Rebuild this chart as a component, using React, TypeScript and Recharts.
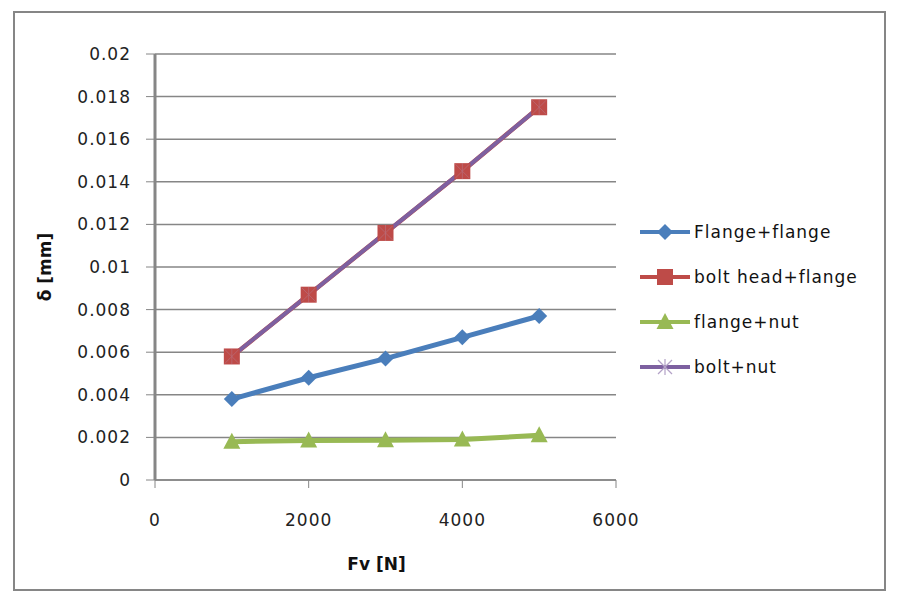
import React from 'react';
import { CartesianGrid, Legend, Line, LineChart, XAxis, YAxis } from 'recharts';

const forces = [1000, 2000, 3000, 4000, 5000];
const flangeFlange = [0.0038, 0.0048, 0.0057, 0.0067, 0.0077];
const boltHeadFlange = [0.0058, 0.0087, 0.0116, 0.0145, 0.0175];
const flangeNut = [0.0018, 0.00185, 0.00187, 0.0019, 0.0021];
const boltNut = [0.0058, 0.0087, 0.0116, 0.0145, 0.0175];

const xTicks = [0, 2000, 4000, 6000];
const yTicks = [0, 0.002, 0.004, 0.006, 0.008, 0.01, 0.012, 0.014, 0.016, 0.018, 0.02];

const data = forces.map((f, i) => ({
  force: f,
  ff: flangeFlange[i],
  bhf: boltHeadFlange[i],
  fn: flangeNut[i],
  bn: boltNut[i],
}));

const FONT = '"DejaVu Sans", sans-serif';
const GRID = '#868686';

type Shape = 'diamond' | 'square' | 'triangle' | 'cross';

const series: { key: string; name: string; color: string; shape: Shape; width: number }[] = [
  { key: 'ff', name: 'Flange+flange', color: '#4a7ebb', shape: 'diamond', width: 5 },
  { key: 'bhf', name: 'bolt head+flange', color: '#be4b48', shape: 'square', width: 4.5 },
  { key: 'fn', name: 'flange+nut', color: '#98b954', shape: 'triangle', width: 5 },
  { key: 'bn', name: 'bolt+nut', color: '#7d60a0', shape: 'cross', width: 4 },
];

function marker(shape: Shape, color: string, cx: number, cy: number, k?: string, faint?: boolean) {
  if (shape === 'diamond') {
    const r = 8;
    return <polygon key={k} points={`${cx},${cy - r} ${cx + r},${cy} ${cx},${cy + r} ${cx - r},${cy}`} fill={color} />;
  }
  if (shape === 'square') {
    return <rect key={k} x={cx - 8} y={cy - 8} width={16} height={16} fill={color} />;
  }
  if (shape === 'triangle') {
    return <polygon key={k} points={`${cx},${cy - 9} ${cx + 8.5},${cy + 7} ${cx - 8.5},${cy + 7}`} fill={color} />;
  }
  return (
    <g key={k} stroke="#b3a2c7" strokeWidth={faint ? 0.8 : 1.2} opacity={faint ? 0.35 : 1}>
      <line x1={cx - 7} y1={cy - 7} x2={cx + 7} y2={cy + 7} />
      <line x1={cx - 7} y1={cy + 7} x2={cx + 7} y2={cy - 7} />
      <line x1={cx} y1={cy - 8} x2={cx} y2={cy + 8} />
    </g>
  );
}

function renderLegend() {
  return (
    <div style={{ fontFamily: FONT, fontSize: 17, letterSpacing: 1, color: '#111' }}>
      {series.map((s) => (
        <div key={s.key} style={{ display: 'flex', alignItems: 'center', height: 45 }}>
          <svg width={54} height={24}>
            <line x1={0} y1={12} x2={50} y2={12} stroke={s.color} strokeWidth={4} />
            {marker(s.shape, s.color, 25, 12)}
          </svg>
          <span>{s.name}</span>
        </div>
      ))}
    </div>
  );
}

export default function App() {
  return (
    <div style={{ position: 'absolute', left: 0, top: 0, width: 900, height: 594, background: '#fff' }}>
      <div
        style={{
          position: 'absolute',
          left: 13,
          top: 11,
          width: 873,
          height: 580,
          border: `2px solid ${GRID}`,
          boxSizing: 'border-box',
        }}
      />
      <LineChart
        width={900}
        height={594}
        data={data}
        margin={{ top: 54, right: 284, bottom: 0, left: 0 }}
        style={{ position: 'absolute', left: 0, top: 0 }}
      >
        <CartesianGrid vertical={false} stroke={GRID} strokeWidth={1.5} />
        <XAxis
          dataKey="force"
          type="number"
          domain={[0, 6000]}
          ticks={xTicks}
          height={114}
          tickSize={8}
          tickMargin={26}
          axisLine={{ stroke: GRID, strokeWidth: 1.5 }}
          tickLine={{ stroke: GRID, strokeWidth: 1 }}
          tick={{ fill: '#222', fontFamily: FONT, fontSize: 17, letterSpacing: 1 }}
          label={{
            value: 'Fv [N]',
            content: (p: any) => (
              <text
                x={p.viewBox.x + p.viewBox.width / 2 - 9}
                y={p.viewBox.y + 90}
                textAnchor="middle"
                fontFamily={FONT}
                fontWeight="bold"
                fontSize={17}
                fill="#111"
              >
                Fv [N]
              </text>
            ),
          }}
        />
        <YAxis
          type="number"
          domain={[0, 0.02]}
          ticks={yTicks}
          width={155}
          tickSize={9}
          tickMargin={15}
          tickFormatter={(v: number) => String(v)}
          axisLine={{ stroke: GRID, strokeWidth: 3 }}
          tickLine={{ stroke: GRID, strokeWidth: 1 }}
          tick={{ fill: '#222', fontFamily: FONT, fontSize: 17, letterSpacing: 1 }}
          label={{
            value: 'δ [mm]',
            content: (p: any) => {
              const x = 45;
              const y = p.viewBox.y + p.viewBox.height / 2;
              return (
                <text
                  x={x}
                  y={y}
                  transform={`rotate(-90, ${x}, ${y})`}
                  textAnchor="middle"
                  dominantBaseline="central"
                  fontFamily={FONT}
                  fontWeight="bold"
                  fontSize={17}
                  fill="#111"
                >
                  δ [mm]
                </text>
              );
            },
          }}
        />
        <Legend
          content={renderLegend}
          layout="horizontal"
          verticalAlign="middle"
          align="center"
          wrapperStyle={{ left: 640, top: 209, width: 250 }}
        />
        {series.map((s) => (
          <Line
            key={s.key}
            dataKey={s.key}
            name={s.name}
            stroke={s.color}
            strokeWidth={s.width}
            isAnimationActive={false}
            dot={(p: any) => marker(s.shape, s.color, p.cx, p.cy, `${s.key}-${p.index}`, true)}
            activeDot={false}
          />
        ))}
      </LineChart>
    </div>
  );
}
